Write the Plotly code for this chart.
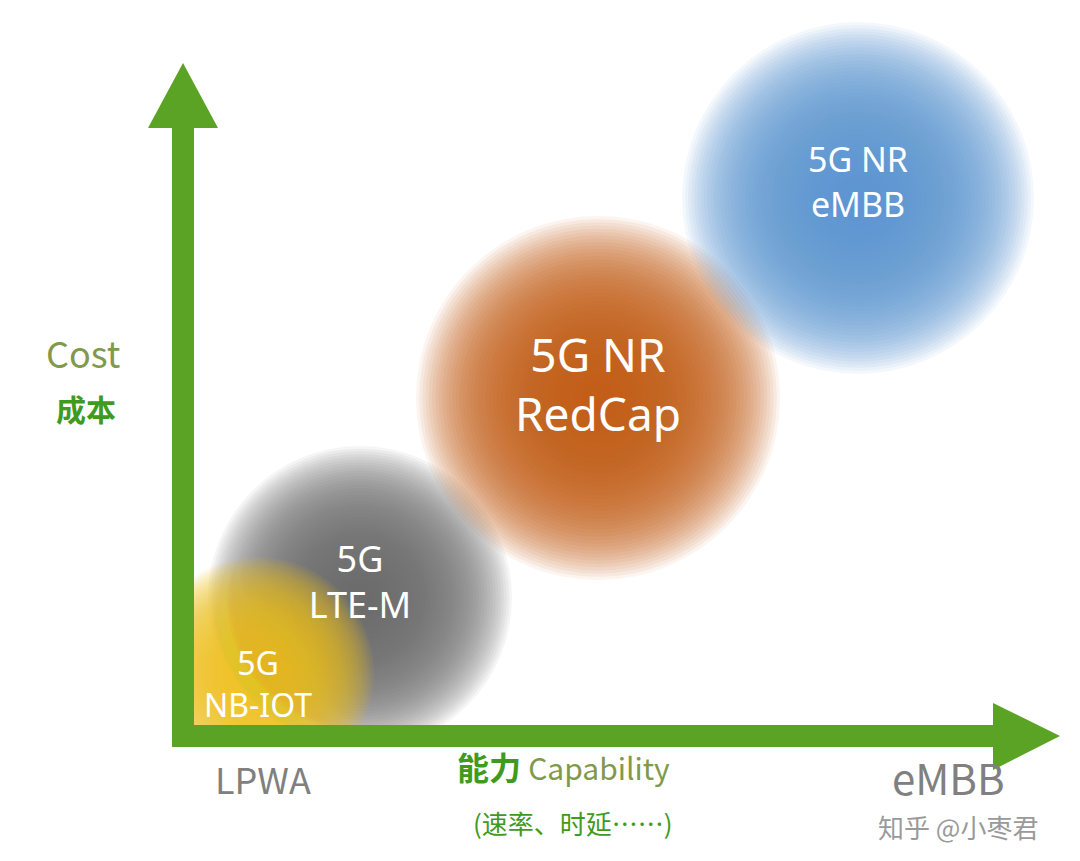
import plotly.graph_objects as go

W, H = 1080, 861
names = ["5G<br>LTE-M", "5G<br>NB-IOT", "5G NR<br>RedCap", "5G NR<br>eMBB"]
cx = [352, 250, 590, 850]
cy = [590, 665, 390, 190]
radius = [125, 95, 150, 145]
colors = ["#6a6a6a", "#f7c21c", "#c4560f", "#5b9bd5"]
label_sizes = [36, 32, 46, 34]
label_y = [578, 680, 382, 178]

X0, Y0 = 165, 728
fig = go.Figure()
N = 40
for x, y, r, c in zip(cx, cy, radius, colors):
    sizes = [2 * r * 1.2 * (1 - k / N) ** 0.7 + 4 for k in range(N)]
    fig.add_trace(go.Scatter(x=[x] * N, y=[y] * N, mode="markers",
                             marker=dict(size=sizes, color=c, opacity=0.065, line=dict(width=0)),
                             hoverinfo="skip", showlegend=False))
fig.add_trace(go.Scatter(x=cx, y=label_y, mode="text", text=names,
                         textfont=dict(color="white", size=label_sizes, family="Noto Sans"),
                         showlegend=False, hoverinfo="skip"))

green = "#5aa325"
def px(x): return x / W
def py(y): return 1 - y / H
shapes = [
    dict(type="line", xref="paper", yref="paper", x0=px(175), x1=px(175), y0=py(738), y1=py(118),
         line=dict(color=green, width=22), layer="above"),
    dict(type="path", xref="paper", yref="paper", layer="above", fillcolor=green, line=dict(width=0),
         path=f"M {px(140)} {py(120)} L {px(210)} {py(120)} L {px(175)} {py(55)} Z"),
    dict(type="line", xref="paper", yref="paper", x0=px(164), x1=px(988), y0=py(728), y1=py(728),
         line=dict(color=green, width=22), layer="above"),
    dict(type="path", xref="paper", yref="paper", layer="above", fillcolor=green, line=dict(width=0),
         path=f"M {px(985)} {py(695)} L {px(985)} {py(762)} L {px(1052)} {py(728)} Z"),
]
F = "Noto Sans CJK SC"
def ann(t, x, y, size, color, xa="center"):
    return dict(text=t, x=px(x), y=py(y), xref="paper", yref="paper", showarrow=False,
                xanchor=xa, yanchor="middle", font=dict(size=size, color=color, family=F))
anns = [
    ann("Cost", 75, 344, 36, "#7f9a4a"),
    ann("<b>成本</b>", 78, 400, 30, "#3f9a1f"),
    ann("LPWA", 255, 770, 36, "#808080"),
    ann("<b>能力</b> <span style='font-size:30px;color:#7f9a4a'>Capability</span>", 555, 758, 32, "#3f9a1f"),
    ann("(速率、时延……)", 565, 814, 26, "#3f9a1f"),
    ann("eMBB", 940, 768, 42, "#808080"),
    ann("知乎 @小枣君", 950, 818, 26, "#9a9a9a"),
]
fig.update_layout(width=W, height=H, margin=dict(l=0, r=0, t=0, b=0),
                  plot_bgcolor="white", paper_bgcolor="white", shapes=shapes, annotations=anns,
                  xaxis=dict(domain=[X0 / W, 1], range=[X0, W], visible=False, fixedrange=True),
                  yaxis=dict(domain=[1 - Y0 / H, 1], range=[Y0, 0], visible=False, fixedrange=True))
fig.write_html("out.html")
